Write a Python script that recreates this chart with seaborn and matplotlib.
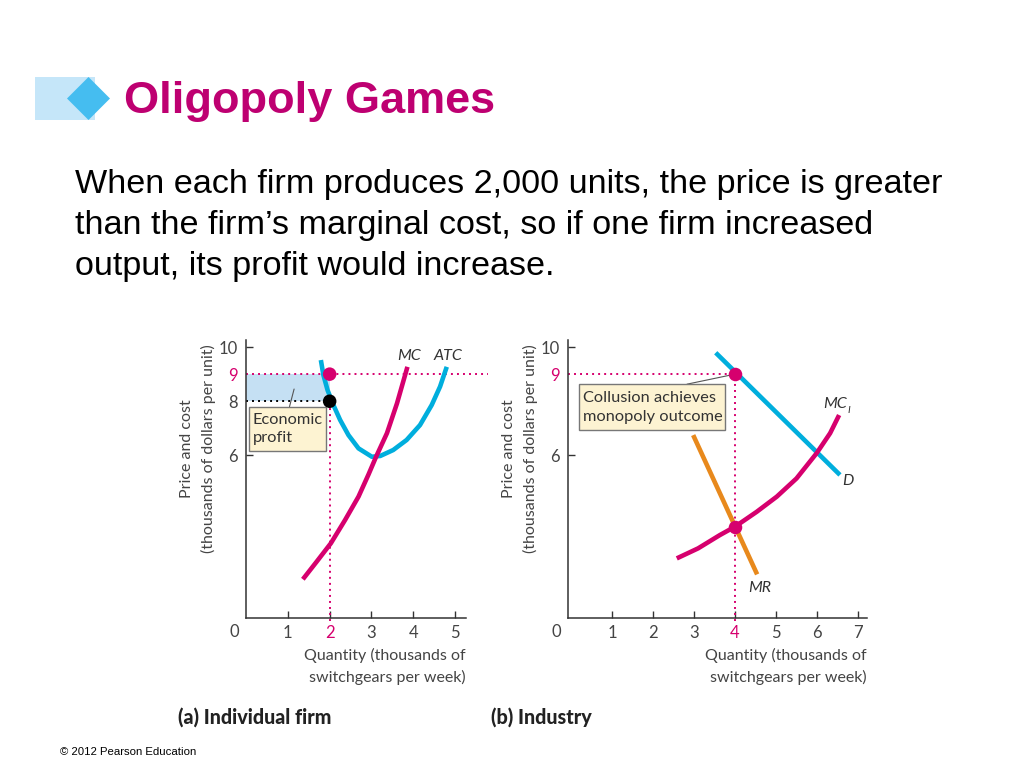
import matplotlib
matplotlib.use("Agg")
import matplotlib.pyplot as plt
import pandas as pd
import seaborn as sns
from matplotlib.patches import Polygon, Rectangle

# Left panel curves
mc_x = [1.36, 1.69, 2.03, 2.37, 2.69, 2.93, 3.11, 3.37, 3.61, 3.86]
mc_y = [1.43, 2.08, 2.76, 3.62, 4.48, 5.30, 5.95, 6.82, 7.92, 9.27]
atc_x = [1.79, 1.85, 1.95, 2.09, 2.25, 2.45, 2.69, 3.01, 3.21, 3.52, 3.84, 4.16, 4.44, 4.64, 4.80]
atc_y = [9.52, 8.97, 8.41, 7.86, 7.31, 6.75, 6.26, 5.95, 5.98, 6.20, 6.57, 7.12, 7.86, 8.54, 9.27]

# Right panel curves
d_x = [3.53, 6.56]
d_y = [9.79, 5.28]
mr_x = [2.98, 4.54]
mr_y = [6.75, 1.61]
mci_x = [2.58, 3.10, 3.63, 4.00, 4.53, 5.02, 5.50, 5.99, 6.32, 6.54]
mci_y = [2.20, 2.57, 3.06, 3.37, 3.92, 4.48, 5.15, 6.08, 6.82, 7.49]

left_xticks = [1, 2, 3, 4, 5]
right_xticks = [1, 2, 3, 4, 5, 6, 7]
left_yticks = [6, 8, 9, 10]
right_yticks = [6, 9, 10]

left_points_x = [2, 2]
left_points_y = [9, 8]
left_points_c = ["pink", "black"]
right_points_x = [4, 4]
right_points_y = [9, 3.37]

pink = "#D6006E"
blue = "#00AEDD"
orange = "#E8891C"
magenta = "#BE0071"
ink = "#333333"

sns.set_theme(style="white")
plt.rcParams["font.family"] = ["Lato", "DejaVu Sans"]

W, H = 1024, 768
fig = plt.figure(figsize=(W / 100, H / 100), dpi=100, facecolor="white")


def px_axes(x0, x1, y0, y1):
    return fig.add_axes([x0 / W, 1 - y0 / H, (x1 - x0) / W, (y0 - y1) / H])


def curve(ax, x, y, color):
    df = pd.DataFrame({"x": x, "y": y})
    sns.lineplot(data=df, x="x", y="y", color=color, linewidth=3.3, sort=False,
                 estimator=None, ax=ax, solid_capstyle="butt", clip_on=False)


def dotted(ax, x, y, color):
    ax.plot(x, y, color=color, linestyle=(0, (1, 2.1)), linewidth=1.4,
            clip_on=False, zorder=1.5)


def style_axes(ax, xticks, yticks):
    sns.despine(ax=ax)
    for s in ["left", "bottom"]:
        ax.spines[s].set_color(ink)
        ax.spines[s].set_linewidth(1.1)
    ax.patch.set_alpha(0)
    ax.set_xticks(xticks)
    ax.set_yticks(yticks)
    ax.tick_params(axis="both", direction="in", length=5, width=1, color=ink,
                   labelsize=12, labelcolor="#444444", left=True, bottom=True)
    ax.tick_params(axis="x", pad=5)
    ax.tick_params(axis="y", pad=6)
    for t in ax.get_yticklabels():
        if t.get_text() == "9":
            t.set_color(pink)
    for tick, v in zip(ax.yaxis.get_major_ticks(), yticks):
        if v in (8, 9):
            tick.tick1line.set_visible(False)
    ax.set_xlabel("Quantity (thousands of\nswitchgears per week)", loc="right",
                  fontsize=11.5, color="#444444", multialignment="right",
                  linespacing=1.55, labelpad=5)
    ax.set_ylabel("Price and cost\n(thousands of dollars per unit)", fontsize=11.5,
                  color="#444444", linespacing=1.55, labelpad=2, y=0.61)


# Panel (a)
ax1 = px_axes(246, 466, 618, 340)
ax1.set_xlim(0, 5.26)
ax1.set_ylim(0, 10.26)
ax1.add_patch(Rectangle((0, 8), 2, 1, facecolor="#C5E0F3", edgecolor="none", zorder=1))
dotted(ax1, [0, 5.79], [9, 9], pink)
dotted(ax1, [0, 2], [8, 8], "black")
dotted(ax1, [2, 2], [-0.12, 8], pink)
curve(ax1, atc_x, atc_y, blue)
curve(ax1, mc_x, mc_y, pink)
sns.scatterplot(x=left_points_x, y=left_points_y, hue=left_points_c,
                palette={"pink": pink, "black": "black"}, s=95, linewidth=0,
                legend=False, zorder=5, clip_on=False, ax=ax1)
style_axes(ax1, left_xticks, left_yticks)
ax1.get_xticklabels()[1].set_color(pink)
ax1.plot([1.04, 1.15], [7.8, 8.45], color="#555555", linewidth=0.8, zorder=2)
ax1.add_patch(Rectangle((0.07, 6.16), 1.84, 1.62, facecolor="#FDF3D2",
                        edgecolor="#777777", linewidth=1, zorder=3))
ax1.text(0.16, 6.96, "Economic\nprofit", fontsize=11.8, color="#333333", va="center",
         linespacing=1.35, zorder=4)
ax1.text(3.9, 9.67, "MC", fontsize=11.5, style="italic", color="#333333", ha="center", va="center")
ax1.text(4.83, 9.67, "ATC", fontsize=11.5, style="italic", color="#333333", ha="center", va="center")
ax1.text(-0.29, -0.52, "0", fontsize=12, color="#444444", ha="center", va="center")

# Panel (b)
ax2 = px_axes(568, 867, 618, 340)
ax2.set_xlim(-3 / 41, 296 / 41)
ax2.set_ylim(0, 10.26)
dotted(ax2, [-0.07, 4], [9, 9], pink)
dotted(ax2, [4, 4], [-0.12, 9], pink)
curve(ax2, mr_x, mr_y, orange)
curve(ax2, d_x, d_y, blue)
curve(ax2, mci_x, mci_y, pink)
sns.scatterplot(x=right_points_x, y=right_points_y, color=pink, s=95, linewidth=0,
                zorder=5, clip_on=False, ax=ax2)
style_axes(ax2, right_xticks, right_yticks)
ax2.get_xticklabels()[3].set_color(pink)
ax2.plot([2.83, 4], [8.63, 9], color="#555555", linewidth=0.8, zorder=2)
ax2.add_patch(Rectangle((0.19, 6.95), 3.56, 1.69, facecolor="#FDF3D2",
                        edgecolor="#777777", linewidth=1, zorder=3))
ax2.text(0.30, 7.78, "Collusion achieves\nmonopoly outcome", fontsize=11.8, color="#333333",
         va="center", linespacing=1.45, zorder=4)
ax2.text(6.44, 7.9, "MC", fontsize=11.5, style="italic", color="#333333", ha="center", va="center")
ax2.text(6.78, 7.64, "I", fontsize=7.5, style="italic", color="#333333", ha="center", va="center")
ax2.text(6.76, 5.05, "D", fontsize=11.5, style="italic", color="#333333", ha="center", va="center")
ax2.text(4.61, 1.1, "MR", fontsize=11.5, style="italic", color="#333333", ha="center", va="center")
ax2.text(-0.35, -0.52, "0", fontsize=12, color="#444444", ha="center", va="center")

# Slide furniture, positioned in pixels on a full-figure layer
bg = fig.add_axes([0, 0, 1, 1], zorder=-1)
bg.set_xlim(0, W)
bg.set_ylim(H, 0)
bg.axis("off")
bg.add_patch(Rectangle((35, 77), 60, 43, facecolor="#C5E6F9", edgecolor="none"))
bg.add_patch(Polygon([(67, 98.5), (88.5, 77), (110, 98.5), (88.5, 120)], facecolor="#45BDF0",
                     edgecolor="none"))
sans = ["Liberation Sans", "DejaVu Sans"]
bg.text(124, 113, "Oligopoly Games", fontsize=32.5, fontweight="bold", color=magenta,
        family=sans, va="baseline")
body = ["When each firm produces 2,000 units, the price is greater",
        "than the firm\u2019s marginal cost, so if one firm increased",
        "output, its profit would increase."]
for line, y in zip(body, [193, 234, 275]):
    bg.text(75, y, line, fontsize=24.55, color="black", family=sans, va="baseline")
bg.text(178, 717, "(a) Individual firm", fontsize=14.2, fontweight="black", color="#222222", va="center")
bg.text(491, 717, "(b) Industry", fontsize=14.2, fontweight="black", color="#222222", va="center")
bg.text(60, 752, "\u00a9 2012 Pearson Education", fontsize=8.2, color="black", family=sans, va="center")

fig.savefig("out.png", dpi=100, facecolor="white")
